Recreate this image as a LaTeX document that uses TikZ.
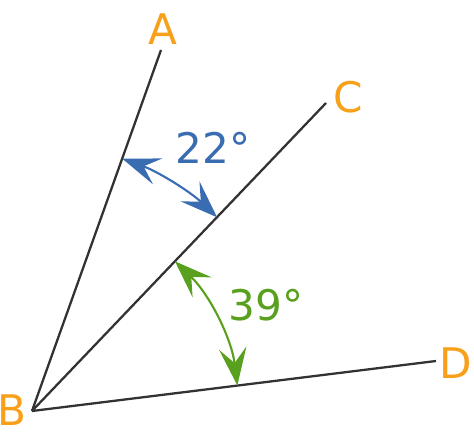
\documentclass[tikz,border=0pt]{standalone}
\usepackage{fontspec}
\setmainfont{DejaVu Sans}
\usetikzlibrary{arrows.meta,calc}
\definecolor{ptorange}{RGB}{248,160,26}
\definecolor{angblue}{RGB}{58,108,178}
\definecolor{anggreen}{RGB}{88,160,30}
\definecolor{raygray}{RGB}{50,50,50}
\tikzset{
  ptlabel/.style={text=ptorange, inner sep=0pt, font=\fontsize{24}{28}\selectfont},
  anglabel/.style={inner sep=0pt, font=\fontsize{24}{28}\selectfont},
  ray/.style={draw=raygray, line width=1.3pt},
  angarrow/.style={line width=1.2pt, {Stealth[length=0.75cm,width=0.55cm,inset=0.3cm]}-{Stealth[length=0.75cm,width=0.55cm,inset=0.3cm]}}
}
\begin{document}
\begin{tikzpicture}[x=0.02cm, y=0.02cm]
  \useasboundingbox (0,0) rectangle (474,447);
  % Points
  \coordinate (B) at (32,36);
  \coordinate (A) at (161,397);
  \coordinate (C) at (326,344);
  \coordinate (D) at (436,86);

  % Labels
  \node[ptlabel] (lA) at (163,418) {A};
  \node[ptlabel] (lC) at (348,350) {C};
  \node[ptlabel] (lD) at (456,84) {D};
  \node[ptlabel] (lB) at (12,37) {B};

  % Rays
  \foreach \p in {A, C, D}
    \draw[ray] (B) -- (\p);

  % Angles
  \draw[angarrow, angblue] ($(B)+(46.3:5.36cm)$) arc[start angle=46.3, end angle=70.3, radius=5.36cm];
  \draw[angarrow, anggreen] ($(B)+(7.1:4.14cm)$) arc[start angle=7.1, end angle=46.3, radius=4.14cm];
  \node[anglabel, text=angblue] (a22) at (213,299) {22°};
  \node[anglabel, text=anggreen] (a39) at (266,142) {39°};
\end{tikzpicture}
\end{document}
